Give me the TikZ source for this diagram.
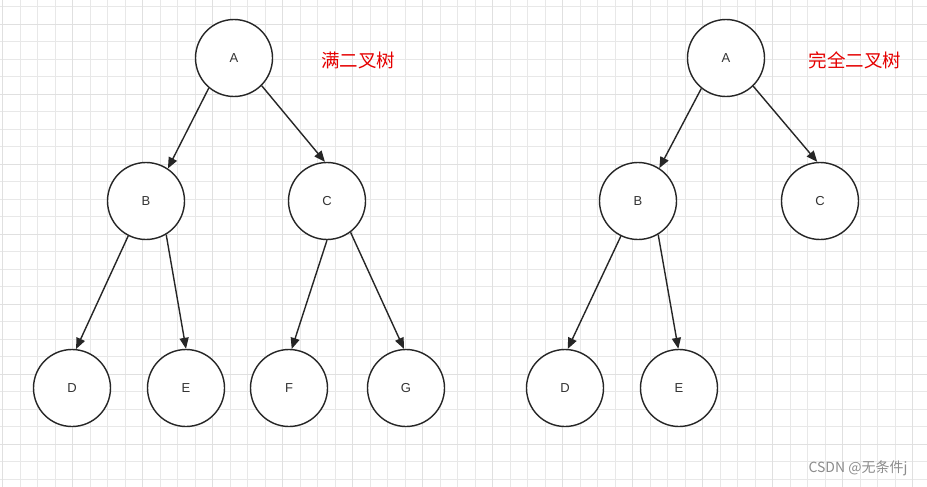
\documentclass[tikz,border=0pt]{standalone}
\usepackage{fontspec}
\setmainfont{Liberation Sans}
\newfontfamily\cjk{Noto Sans CJK SC}
\usetikzlibrary{arrows.meta}
\begin{document}
\begin{tikzpicture}[x=1pt,y=-1pt,
  tn/.style={circle,draw=black!85,line width=1.4pt,minimum size=77pt,inner sep=0pt,font=\fontsize{13}{15}\selectfont,text=black!80,fill=white},
  ed/.style={draw=black!85,line width=1.4pt,-{Triangle[length=11pt,width=9pt]}},
  lbl/.style={font=\cjk\fontsize{18.5}{21}\selectfont,text=red!90!black}]
\useasboundingbox (0,0) rectangle (927,487);
\fill[white] (0,0) rectangle (927,487);
\foreach \i in {0,...,53} {\draw[black!9,line width=1pt] ({2.7+17.5*\i},0) -- ++(0,487);}
\foreach \i in {0,...,27} {\draw[black!9,line width=1pt] (0,{6.7+17.5*\i}) -- ++(927,0);}
\foreach \i in {-1,...,12} {\draw[black!12,line width=1.3pt] ({72.7+70*\i},0) -- ++(0,487);}
\foreach \i in {0,...,6} {\draw[black!12,line width=1.3pt] (0,{24.3+70*\i}) -- ++(927,0);}
\node[tn] (A) at (234,58) {A};
\node[tn] (B) at (146,201) {B};
\node[tn] (C) at (327,201) {C};
\node[tn] (D) at (72,388) {D};
\node[tn] (E) at (186,388) {E};
\node[tn] (F) at (289,388) {F};
\node[tn] (G) at (406,388) {G};
\draw[ed] (A.-130) -- (B.56);
\draw[ed] (A.-45) -- (C.93);
\draw[ed] (B.-117) -- (D.84);
\draw[ed] (B.-59) -- (E.90);
\draw[ed] (C.-90) -- (F.86);
\draw[ed] (C.-53) -- (G.93);
\node[tn] (A2) at (726,58) {A};
\node[tn] (B2) at (638,201) {B};
\node[tn] (C2) at (820,201) {C};
\node[tn] (D2) at (565,388) {D};
\node[tn] (E2) at (679,388) {E};
\draw[ed] (A2.-129) -- (B2.57);
\draw[ed] (A2.-46) -- (C2.94);
\draw[ed] (B2.-116) -- (D2.86);
\draw[ed] (B2.-59) -- (E2.91);
\node[lbl] (t1) at (358,60) {满二叉树};
\node[lbl] (t2) at (855,60) {完全二叉树};
\node[font=\cjk\fontsize{14}{16}\selectfont,text=black!45] (wm) at (858,468) {CSDN @无条件j};
\end{tikzpicture}
\end{document}
